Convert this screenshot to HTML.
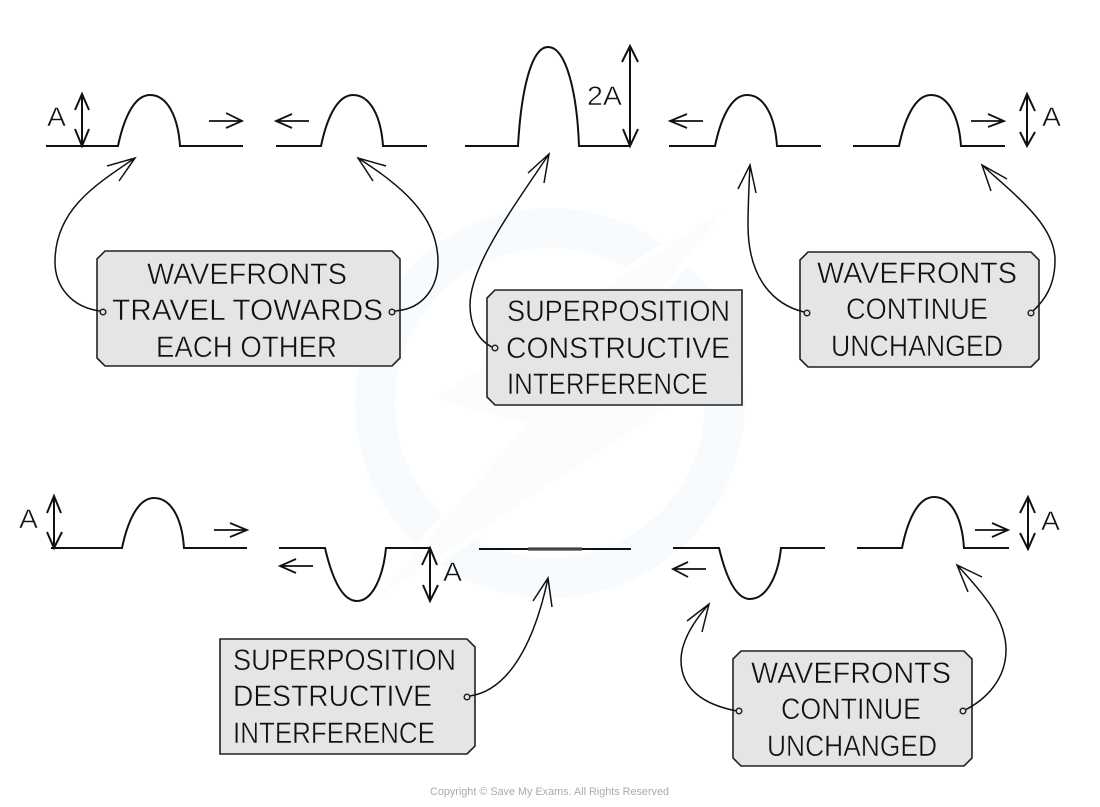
<!DOCTYPE html>
<html lang="en">
<head>
<meta charset="utf-8">
<title>Wavefront superposition</title>
<style>
html,body{margin:0;padding:0;background:#fff;}
svg{display:block;}
.w{fill:none;stroke:#111;stroke-width:2;}
.a{fill:none;stroke:#111;stroke-width:2;}
.h{fill:none;stroke:#111;stroke-width:1.8;}
.c{fill:none;stroke:#111;stroke-width:1.5;}
.b{fill:#e4e5e5;stroke:#222;stroke-width:1.6;}
.d{fill:none;stroke:#222;stroke-width:1.5;}
text{font-family:"Liberation Sans",sans-serif;fill:#111;}
.t{font-size:30px;stroke:#e4e5e5;stroke-width:.5;}
.l{font-size:27px;stroke:#fff;stroke-width:.5;}
</style>
</head>
<body>
<svg width="1100" height="807" viewBox="0 0 1100 807" xmlns="http://www.w3.org/2000/svg">
<!-- watermark -->
<circle cx="550" cy="403" r="175" fill="none" stroke="#f8fbfd" stroke-width="40"/>
<polygon points="737,198 427,400 523,425 363,610 673,407 590,385" fill="#fbfcfd" stroke="#fff" stroke-width="6"/>

<!-- top row waves -->
<path class="w" d="M46 146H118C123 122 133 95 150 95C167 95 178 116 180 146H243"/>
<path class="w" d="M276 146H321C326 122 336 95 353 95C370 95 381 116 383 146H427"/>
<path class="w" d="M465 146H518C521 92 531 47 548 47C566 47 577 92 579 146H630"/>
<path class="w" d="M669 146H715C720 122 730 95 747 95C764 95 775 116 777 146H821"/>
<path class="w" d="M853 146H899C904 122 914 95 931 95C948 95 959 116 961 146H1005"/>

<!-- top row amplitude arrows -->
<path class="a" d="M82 94V146M75 110L82 94L89 110M75 129L82 146L89 129"/>
<path class="a" d="M630 46V146M622 62L630 46L638 62M623 129L630 146L638 129"/>
<path class="a" d="M1027 94V146M1020 111L1027 94L1035 111M1020 132L1027 146L1035 132"/>
<text class="l" x="47" y="126" textLength="19" lengthAdjust="spacingAndGlyphs">A</text>
<text class="l" x="587" y="105" textLength="35" lengthAdjust="spacingAndGlyphs">2A</text>
<text class="l" x="1042" y="126" textLength="19" lengthAdjust="spacingAndGlyphs">A</text>

<!-- top row direction arrows -->
<path class="h" d="M209 121H242M226 113L242 121L226 128"/>
<path class="h" d="M309 121H276M292 114L276 121L292 128"/>
<path class="h" d="M703 121H670M687 114L670 121L687 128"/>
<path class="h" d="M971 121H1004M988 114L1004 121L988 127"/>

<!-- top boxes -->
<polygon class="b" points="105,251 392,251 400,259 400,358 392,366 105,366 97,358 97,259"/>
<polygon class="b" points="495,290 742,290 742,405 495,405 487,397 487,298"/>
<polygon class="b" points="808,252 1031,252 1039,260 1039,359 1031,367 808,367 800,359 800,260"/>

<text class="t" x="147" y="284" textLength="200" lengthAdjust="spacingAndGlyphs">WAVEFRONTS</text>
<text class="t" x="112" y="320" textLength="271" lengthAdjust="spacingAndGlyphs">TRAVEL TOWARDS</text>
<text class="t" x="156" y="357" textLength="181" lengthAdjust="spacingAndGlyphs">EACH OTHER</text>

<text class="t" x="507" y="321" textLength="223" lengthAdjust="spacingAndGlyphs">SUPERPOSITION</text>
<text class="t" x="506" y="358" textLength="224" lengthAdjust="spacingAndGlyphs">CONSTRUCTIVE</text>
<text class="t" x="507" y="394" textLength="201" lengthAdjust="spacingAndGlyphs">INTERFERENCE</text>

<text class="t" x="817" y="283" textLength="200" lengthAdjust="spacingAndGlyphs">WAVEFRONTS</text>
<text class="t" x="846" y="319" textLength="142" lengthAdjust="spacingAndGlyphs">CONTINUE</text>
<text class="t" x="831" y="356" textLength="172" lengthAdjust="spacingAndGlyphs">UNCHANGED</text>

<!-- top callouts -->
<path class="c" d="M100 311C70 307 55 285 55 262C55 210 95 185 135 158M107 166L135 158L119 181"/>
<circle class="d" cx="103" cy="312" r="2.800"/>
<path class="c" d="M395 311C425 309 438 285 438 262C438 215 400 185 358 158M386 166L358 158L373 181"/>
<circle class="d" cx="392" cy="312" r="2.800"/>
<path class="c" d="M492 347C478 340 470 325 470 305C470 265 515 205 549 154M528 173L549 154L544 183"/>
<circle class="d" cx="495" cy="348" r="2.800"/>
<path class="c" d="M804 312C775 305 748 280 748 225C748 205 749 185 750 165M738 189L750 165L756 193"/>
<circle class="d" cx="807" cy="313" r="2.800"/>
<path class="c" d="M1033 311C1045 300 1055 285 1055 260C1055 225 1015 195 982 165M1007 179L982 165L991 191"/>
<circle class="d" cx="1031" cy="313" r="2.800"/>

<!-- bottom row waves -->
<path class="w" d="M51 548H122C127 524 137 498 154 498C171 498 182 518 184 548H247"/>
<path class="w" d="M279 548H325C332 578 342 601 357 601C372 601 383 578 386 548H430"/>
<path class="w" d="M479 549H631"/>
<path d="M528 549H582" fill="none" stroke="#444" stroke-width="3.200"/>
<path class="w" d="M673 548H719C726 577 736 599 750 599C766 599 778 577 781 548H825"/>
<path class="w" d="M857 548H902C907 523 917 497 934 497C951 497 962 517 964 548H1009"/>

<!-- bottom amplitude arrows -->
<path class="a" d="M54 496V548M47 513L54 496L61 513M47 532L54 548L62 532"/>
<path class="a" d="M430 548V601M422 565L430 548L437 565M423 585L430 601L438 585"/>
<path class="a" d="M1028 497V549M1020 513L1028 497L1035 513M1020 533L1028 549L1035 533"/>
<text class="l" x="19" y="528" textLength="19" lengthAdjust="spacingAndGlyphs">A</text>
<text class="l" x="443" y="581" textLength="19" lengthAdjust="spacingAndGlyphs">A</text>
<text class="l" x="1041" y="530" textLength="19" lengthAdjust="spacingAndGlyphs">A</text>

<!-- bottom direction arrows -->
<path class="h" d="M214 530H247M230 523L247 530L230 537"/>
<path class="h" d="M313 566H280M296 559L280 566L296 573"/>
<path class="h" d="M706 569H673M688 562L673 569L688 577"/>
<path class="h" d="M975 530H1008M992 523L1008 530L992 537"/>

<!-- bottom boxes -->
<polygon class="b" points="220,639 467,639 475,647 475,746 467,754 220,754"/>
<polygon class="b" points="741,651 964,651 972,659 972,758 964,766 741,766 733,758 733,659"/>

<text class="t" x="233" y="670" textLength="223" lengthAdjust="spacingAndGlyphs">SUPERPOSITION</text>
<text class="t" x="233" y="706" textLength="199" lengthAdjust="spacingAndGlyphs">DESTRUCTIVE</text>
<text class="t" x="233" y="743" textLength="202" lengthAdjust="spacingAndGlyphs">INTERFERENCE</text>

<text class="t" x="751" y="683" textLength="200" lengthAdjust="spacingAndGlyphs">WAVEFRONTS</text>
<text class="t" x="781" y="719" textLength="140" lengthAdjust="spacingAndGlyphs">CONTINUE</text>
<text class="t" x="767" y="756" textLength="170" lengthAdjust="spacingAndGlyphs">UNCHANGED</text>

<!-- bottom callouts -->
<path class="c" d="M470 696C510 690 535 640 548 578M533 601L548 578L552 607"/>
<circle class="d" cx="467" cy="697" r="2.800"/>
<path class="c" d="M737 711C705 705 681 690 681 660C681 640 695 620 709 604M687 621L709 604L702 632"/>
<circle class="d" cx="739" cy="711" r="2.800"/>
<path class="c" d="M965 710C985 700 1006 680 1006 650C1006 620 985 595 957 565M982 577L957 565L968 592"/>
<circle class="d" cx="963" cy="711" r="2.800"/>

<text x="430" y="795" font-size="11" style="fill:#aaaaaa" textLength="239" lengthAdjust="spacingAndGlyphs">Copyright © Save My Exams. All Rights Reserved</text>
</svg>
</body>
</html>
